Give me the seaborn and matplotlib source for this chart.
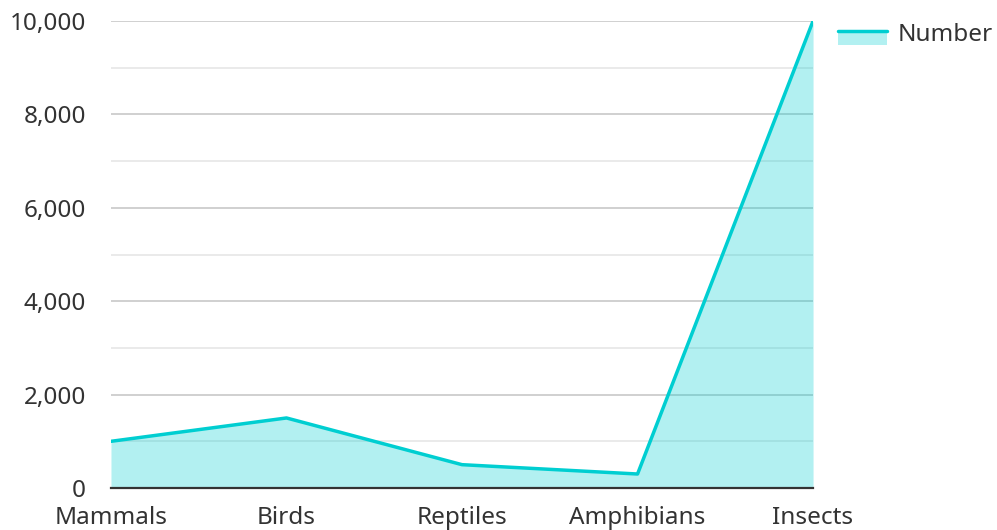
import matplotlib
matplotlib.use("Agg")
import matplotlib.pyplot as plt
from matplotlib.lines import Line2D
from matplotlib.patches import Rectangle
from matplotlib.legend_handler import HandlerBase
from matplotlib.ticker import MultipleLocator, FuncFormatter
import seaborn as sns
import pandas as pd

categories = ["Mammals", "Birds", "Reptiles", "Amphibians", "Insects"]
numbers = [1000, 1500, 500, 300, 10000]
series_name = "Number"

LINE = "#00CED1"
TEXT = "#333333"

sns.set_theme(style="white")
plt.rcParams["font.family"] = ["Noto Sans", "DejaVu Sans"]

df = pd.DataFrame({"Category": categories, series_name: numbers})

fig = plt.figure(figsize=(9.97, 5.30), dpi=100)
ax = fig.add_axes([0.1113, 0.0792, 0.7042, 0.8812])

sns.lineplot(data=df, x="Category", y=series_name, ax=ax, color=LINE,
             linewidth=2.5, sort=False, zorder=3)
xs = list(range(len(categories)))
ax.fill_between(xs, numbers, 0, color=LINE, alpha=0.3, linewidth=0, zorder=2)

ax.set_xlim(0, len(categories) - 1)
ax.set_ylim(0, 10000)
ax.yaxis.set_major_locator(MultipleLocator(2000))
ax.yaxis.set_minor_locator(MultipleLocator(1000))
ax.yaxis.set_major_formatter(FuncFormatter(lambda v, p: f"{int(v):,}"))
ax.grid(which="major", axis="y", color="#c8c8c8", linewidth=1.2)
ax.grid(which="minor", axis="y", color="#e6e6e6", linewidth=1.2)
ax.grid(which="major", axis="x", visible=False)
ax.set_axisbelow(True)

ax.set_xlabel("")
ax.set_ylabel("")
ax.tick_params(axis="both", which="both", length=0, labelsize=17.5, colors=TEXT)
ax.tick_params(axis="y", pad=18)
ax.tick_params(axis="x", pad=13)

for s in ["left", "right", "top"]:
    ax.spines[s].set_visible(False)
ax.spines["bottom"].set_color(TEXT)
ax.spines["bottom"].set_linewidth(1.6)
ax.spines["bottom"].set_zorder(4)


class AreaHandler(HandlerBase):
    def create_artists(self, legend, orig_handle, xdescent, ydescent,
                       width, height, fontsize, trans):
        top = -ydescent + height * 0.55
        patch = Rectangle((-xdescent, top - height * 0.8), width, height * 0.8,
                          facecolor=LINE, alpha=0.3, linewidth=0, transform=trans)
        line = Line2D([-xdescent, -xdescent + width], [top, top],
                      color=LINE, linewidth=2.5, transform=trans)
        return [patch, line]


handle = Line2D([], [], color=LINE)
fig.legend([handle], [series_name], handler_map={Line2D: AreaHandler()},
           loc="upper left", bbox_to_anchor=(0.8405, 0.957), frameon=False,
           borderpad=0, borderaxespad=0,
           fontsize=17.5, handlelength=2.0, handletextpad=0.45, labelcolor=TEXT)

fig.savefig("out.png", dpi=100)
